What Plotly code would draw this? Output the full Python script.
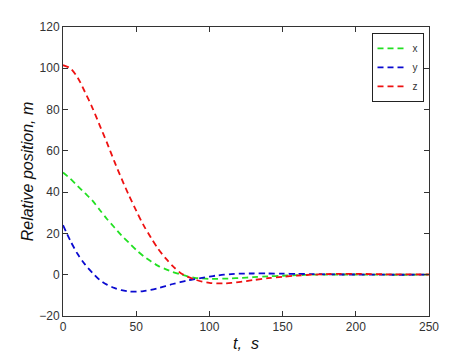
import plotly.graph_objects as go

t_vals = [0, 5, 10, 15, 20, 25, 30, 35, 40, 45, 50, 55, 60, 65, 70, 75, 80, 85, 90, 95, 100,
          105, 110, 115, 120, 130, 140, 150, 160, 170, 180, 190, 200, 220, 250]

x_vals = [49.5, 46.5, 43, 39.5, 36, 31.5, 27, 23, 19, 15.5, 12, 9, 6.5, 4.3, 2.7, 1.3, 0.2, -0.8, -1.5, -1.8, -2.0,
          -2.0, -1.9, -1.8, -1.6, -1.2, -0.8, -0.5, -0.2, 0.0, 0.1, 0.1, 0.1, 0.0, 0.0]

y_vals = [24, 16.5, 10, 5, 1, -2.5, -4.8, -6.4, -7.5, -8.1, -8.2, -7.9, -7.3, -6.5, -5.5, -4.5, -3.6, -2.8, -2.1, -1.5, -0.9,
          -0.4, 0.0, 0.3, 0.5, 0.6, 0.6, 0.5, 0.4, 0.3, 0.2, 0.1, 0.1, 0.0, 0.0]

z_vals = [101.5, 100, 95.5, 88.5, 81, 72.5, 64, 55, 46.5, 38.5, 31, 24, 18, 12.5, 8, 4.2, 1.0, -0.9, -2.3, -3.3, -3.9,
          -4.2, -4.2, -4.0, -3.6, -2.6, -1.7, -1.0, -0.4, 0.0, 0.3, 0.4, 0.4, 0.2, 0.1]

series = [("x", x_vals, "#22e022"), ("y", y_vals, "#0a0ad0"), ("z", z_vals, "#ee1111")]

fig = go.Figure()
for name, vals, color in series:
    fig.add_trace(go.Scatter(
        x=t_vals, y=vals, mode="lines", name=name,
        line=dict(color=color, width=1.8, dash="6px,4px", shape="spline", smoothing=0.8),
    ))

axis_common = dict(
    showline=True, linecolor="#333", linewidth=1, mirror="ticks",
    ticks="inside", ticklen=5, tickcolor="#333",
    showgrid=False, zeroline=False, automargin=False,
    tickfont=dict(family="Liberation Sans, Arial", size=12, color="#333"),
)

fig.update_layout(
    width=474, height=355,
    paper_bgcolor="white", plot_bgcolor="white",
    margin=dict(l=63, r=45, t=27, b=39),
    showlegend=True,
    legend=dict(
        x=0.985, y=0.98, xanchor="right", yanchor="top",
        bordercolor="#222", borderwidth=1, bgcolor="white",
        font=dict(family="Liberation Sans, Arial", size=10, color="#333"),
        tracegroupgap=0, itemwidth=30,
    ),
    xaxis=dict(range=[0, 250], tickvals=[0, 50, 100, 150, 200, 250],
               title=dict(text="<i>t,  s</i>", standoff=4,
                          font=dict(family="Liberation Sans, Arial", size=16, color="#111")),
               **axis_common),
    yaxis=dict(range=[-20, 120], tickvals=[-20, 0, 20, 40, 60, 80, 100, 120],
               title=dict(text="<i>Relative position, m</i>", standoff=1,
                          font=dict(family="Liberation Sans, Arial", size=16, color="#111")),
               **axis_common),
)

fig.write_html("out.html", config={"displayModeBar": False},
               post_script="document.body.style.margin='0';")
